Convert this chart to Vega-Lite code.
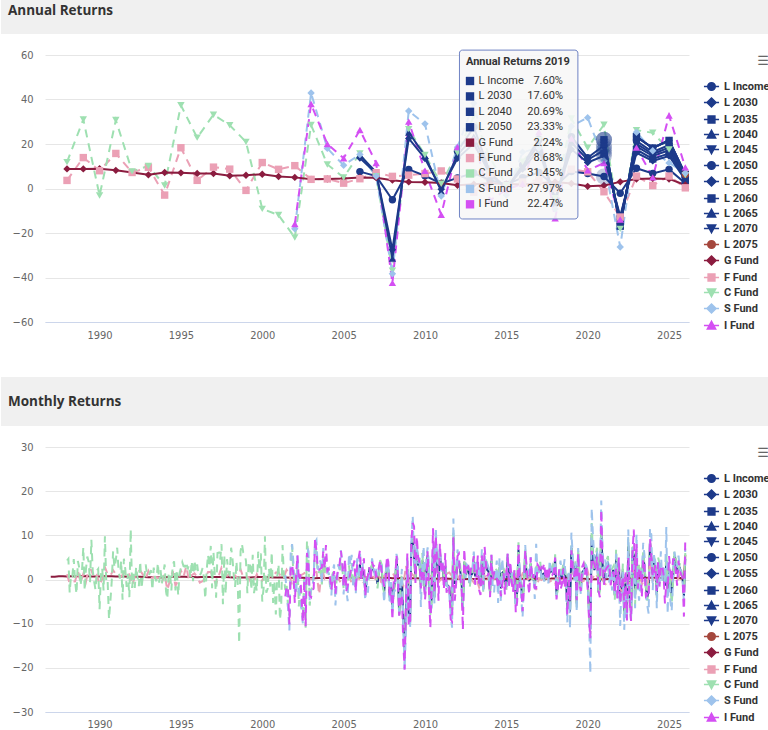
{
  "$schema": "https://vega.github.io/schema/vega-lite/v6.json",
  "padding": 0,
  "spacing": 15,
  "background": "#ffffff",
  "resolve": {
    "scale": {"color": "independent", "fill": "independent", "stroke": "independent", "shape": "independent"},
    "legend": {"color": "independent", "fill": "independent", "stroke": "independent", "shape": "independent"}
  },
  "config": {
    "view": {"stroke": null},
    "axis": {"labelFont": "Liberation Sans Narrow, DejaVu Sans Condensed, sans-serif", "labelFontSize": 11, "labelColor": "#666666", "ticks": false, "tickSize": 0},
    "legend": {
      "orient": "right", "offset": 13, "padding": 0,
      "symbolSize": 228, "symbolStrokeWidth": 1.5, "symbolOpacity": 1,
      "labelFont": "Roboto", "labelFontWeight": "bold", "labelFontSize": 11, "labelColor": "#333333", "labelOffset": 4, "labelLimit": 50,
      "rowPadding": 0,
      "titleFont": "DejaVu Sans", "titleFontSize": 13, "titleFontWeight": "normal", "titleColor": "#666666", "titleAnchor": "end", "titlePadding": 10
    }
  },
  "datasets": {
    "names": [
      {"k": "LI", "n": "L Income"}, {"k": "L30", "n": "L 2030"}, {"k": "L35", "n": "L 2035"}, {"k": "L40", "n": "L 2040"},
      {"k": "L45", "n": "L 2045"}, {"k": "L50", "n": "L 2050"}, {"k": "L55", "n": "L 2055"}, {"k": "L60", "n": "L 2060"},
      {"k": "L65", "n": "L 2065"}, {"k": "L70", "n": "L 2070"}, {"k": "L75", "n": "L 2075"}, {"k": "G", "n": "G Fund"},
      {"k": "F", "n": "F Fund"}, {"k": "C", "n": "C Fund"}, {"k": "S", "n": "S Fund"}, {"k": "I", "n": "I Fund"}
    ],
    "annual": [
      {"d": "1988", "G": 8.81, "F": 3.63, "C": 11.84},
      {"d": "1989", "G": 8.81, "F": 13.89, "C": 31.03},
      {"d": "1990", "G": 8.90, "F": 8.00, "C": -3.15},
      {"d": "1991", "G": 8.15, "F": 15.75, "C": 30.77},
      {"d": "1992", "G": 7.23, "F": 7.20, "C": 7.70},
      {"d": "1993", "G": 6.14, "F": 9.52, "C": 10.13},
      {"d": "1994", "G": 7.22, "F": -2.96, "C": 1.33},
      {"d": "1995", "G": 7.03, "F": 18.31, "C": 37.41},
      {"d": "1996", "G": 6.76, "F": 3.66, "C": 22.85},
      {"d": "1997", "G": 6.77, "F": 9.60, "C": 33.17},
      {"d": "1998", "G": 5.74, "F": 8.70, "C": 28.44},
      {"d": "1999", "G": 5.99, "F": -0.85, "C": 20.95},
      {"d": "2000", "G": 6.42, "F": 11.67, "C": -9.14},
      {"d": "2001", "G": 5.39, "F": 8.61, "C": -11.94},
      {"d": "2002", "G": 5.00, "F": 10.27, "C": -22.05, "S": -18.14, "I": -15.98},
      {"d": "2003", "G": 4.11, "F": 4.11, "C": 28.54, "S": 42.92, "I": 37.94},
      {"d": "2004", "G": 4.30, "F": 4.30, "C": 10.82, "S": 18.03, "I": 20.00},
      {"d": "2005", "G": 4.49, "F": 2.40, "C": 4.96, "S": 10.45, "I": 13.63},
      {"d": "2006", "G": 4.93, "F": 4.40, "C": 15.79, "S": 15.30, "I": 26.32, "LI": 7.59, "L30": 13.72, "L40": 15.00},
      {"d": "2007", "G": 4.87, "F": 7.09, "C": 5.54, "S": 5.49, "I": 11.43, "LI": 5.56, "L30": 6.87, "L40": 7.36},
      {"d": "2008", "G": 3.75, "F": 5.45, "C": -36.99, "S": -38.32, "I": -42.43, "LI": -5.09, "L30": -27.50, "L40": -31.53},
      {"d": "2009", "G": 2.97, "F": 5.99, "C": 26.68, "S": 34.85, "I": 30.04, "LI": 8.57, "L30": 22.48, "L40": 25.19},
      {"d": "2010", "G": 2.81, "F": 6.71, "C": 15.06, "S": 29.06, "I": 7.94, "LI": 5.74, "L30": 13.49, "L40": 14.74},
      {"d": "2011", "G": 2.45, "F": 7.89, "C": 2.11, "S": -3.38, "I": -11.81, "LI": 2.23, "L30": -0.36, "L40": -1.21},
      {"d": "2012", "G": 1.47, "F": 4.29, "C": 16.07, "S": 18.57, "I": 18.62, "LI": 4.77, "L30": 13.59, "L40": 15.19, "L50": 16.76},
      {"d": "2013", "G": 1.89, "F": -1.68, "C": 32.45, "S": 38.35, "I": 22.13, "LI": 6.97, "L30": 20.18, "L40": 23.23, "L50": 27.56},
      {"d": "2014", "G": 2.31, "F": 6.73, "C": 13.78, "S": 7.80, "I": -5.27, "LI": 3.76, "L30": 6.31, "L40": 6.68, "L50": 7.22},
      {"d": "2015", "G": 2.04, "F": 0.91, "C": 1.46, "S": -2.92, "I": -0.51, "LI": 1.83, "L30": 0.08, "L40": -0.04, "L50": -0.19},
      {"d": "2016", "G": 1.82, "F": 2.91, "C": 12.01, "S": 16.35, "I": 2.10, "LI": 4.86, "L30": 8.79, "L40": 9.62, "L50": 10.51},
      {"d": "2017", "G": 2.33, "F": 3.82, "C": 21.82, "S": 18.22, "I": 25.42, "LI": 7.18, "L30": 17.35, "L40": 19.86, "L50": 22.07},
      {"d": "2018", "G": 2.91, "F": 0.15, "C": -4.41, "S": -9.26, "I": -13.43, "LI": 0.93, "L30": -4.33, "L40": -5.49, "L50": -6.67},
      {"d": "2019", "G": 2.24, "F": 8.68, "C": 31.45, "S": 27.97, "I": 22.47, "LI": 7.60, "L30": 17.60, "L40": 20.69, "L50": 23.33},
      {"d": "2020", "G": 0.97, "F": 7.51, "C": 18.31, "S": 31.85, "I": 8.17, "LI": 6.71, "L30": 11.69, "L40": 12.88, "L50": 13.85},
      {"d": "2021", "G": 1.38, "F": -1.46, "C": 28.68, "S": 12.45, "I": 11.45, "LI": 5.42, "L30": 14.71, "L35": 15.90, "L40": 17.14, "L45": 18.30, "L50": 19.36, "L55": 21.90, "L60": 21.90, "L65": 21.90},
      {"d": "2022", "G": 2.98, "F": -12.83, "C": -18.13, "S": -26.26, "I": -13.94, "LI": -2.10, "L30": -12.46, "L35": -13.40, "L40": -14.37, "L45": -15.10, "L50": -15.88, "L55": -16.90, "L60": -16.90, "L65": -16.90},
      {"d": "2023", "G": 4.22, "F": 5.59, "C": 26.25, "S": 25.30, "I": 18.38, "LI": 9.09, "L30": 16.06, "L35": 17.50, "L40": 18.96, "L45": 20.20, "L50": 21.33, "L55": 23.30, "L60": 23.30, "L65": 23.30},
      {"d": "2024", "G": 4.45, "F": 1.33, "C": 25.02, "S": 16.93, "I": 4.99, "LI": 6.80, "L30": 12.40, "L35": 13.30, "L40": 14.60, "L45": 15.50, "L50": 16.40, "L55": 18.20, "L60": 18.20, "L65": 18.20},
      {"d": "2025", "G": 4.30, "F": 5.60, "C": 17.50, "S": 11.50, "I": 32.80, "LI": 8.60, "L30": 14.60, "L35": 15.80, "L40": 17.20, "L45": 18.40, "L50": 19.50, "L55": 21.60, "L60": 21.60, "L65": 21.60},
      {"d": "2026", "G": 1.60, "F": 0.30, "C": 6.00, "S": 7.00, "I": 9.50, "LI": 2.40, "L30": 3.80, "L35": 4.20, "L40": 4.70, "L45": 5.10, "L50": 5.50, "L55": 6.30, "L60": 6.30, "L65": 6.30, "L70": 6.30, "L75": 6.40}
    ],
    "monthly": [
      {"d":"1987-01","G":0.62},{"d":"1987-04","G":0.65},{"d":"1987-07","G":0.72},{"d":"1987-10","G":0.75},
      {"d":"1988-01","C":4.3,"F":1.2,"G":0.7},{"d":"1988-02","C":4.7},{"d":"1988-03","C":-3,"F":-0.9},{"d":"1988-04","C":1.1,"G":0.72},{"d":"1988-05","C":0.8,"F":-0.5},{"d":"1988-06","C":4.6},{"d":"1988-07","C":-0.4,"F":-0.4,"G":0.75},{"d":"1988-08","C":-3.3},{"d":"1988-09","C":4.2,"F":2},{"d":"1988-10","C":2.7,"G":0.76},{"d":"1988-11","C":-1.4,"F":-0.7},{"d":"1988-12","C":1.7},
      {"d":"1989-01","C":7.3,"F":1.3,"G":0.76},{"d":"1989-02","C":-2.5},{"d":"1989-03","C":2.3,"F":-0.5},{"d":"1989-04","C":5.2,"G":0.78},{"d":"1989-05","C":4,"F":2.4},{"d":"1989-06","C":-0.6},{"d":"1989-07","C":9,"F":2.1,"G":0.7},{"d":"1989-08","C":1.9},{"d":"1989-09","C":-0.4,"F":0.3},{"d":"1989-10","C":-2.3,"G":0.68},{"d":"1989-11","C":2,"F":1},{"d":"1989-12","C":2.4},
      {"d":"1990-01","C":-6.7,"F":-1.2,"G":0.7},{"d":"1990-02","C":1.3},{"d":"1990-03","C":2.6,"F":0.1},{"d":"1990-04","C":-2.5,"G":0.72},{"d":"1990-05","C":9.8,"F":2.8},{"d":"1990-06","C":-0.7},{"d":"1990-07","C":-0.3,"F":1.2,"G":0.74},{"d":"1990-08","C":-9},{"d":"1990-09","C":-4.9,"F":0.8},{"d":"1990-10","C":-0.4,"G":0.72},{"d":"1990-11","C":6.4,"F":2.1},{"d":"1990-12","C":2.7},
      {"d":"1991-01","C":4.4,"F":1.2,"G":0.7},{"d":"1991-02","C":7.2},{"d":"1991-03","C":2.4,"F":0.7},{"d":"1991-04","C":0.2,"G":0.68},{"d":"1991-05","C":4.3,"F":0.7},{"d":"1991-06","C":-4.6},{"d":"1991-07","C":4.7,"F":1.4,"G":0.68},{"d":"1991-08","C":2.4},{"d":"1991-09","C":-1.7,"F":2.1},{"d":"1991-10","C":1.3,"G":0.63},{"d":"1991-11","C":-4,"F":1.1},{"d":"1991-12","C":11.4},
      {"d":"1992-01","C":-1.9,"F":-1.3,"G":0.6},{"d":"1992-02","C":1.3},{"d":"1992-03","C":-1.9,"F":0.5},{"d":"1992-04","C":2.9,"G":0.6},{"d":"1992-05","C":0.5,"F":1.8},{"d":"1992-06","C":-1.5},{"d":"1992-07","C":4.1,"F":2,"G":0.6},{"d":"1992-08","C":-2.1},{"d":"1992-09","C":1.2,"F":1.1},{"d":"1992-10","C":0.4,"G":0.58},{"d":"1992-11","C":3.4,"F":0.1},{"d":"1992-12","C":1.2},
      {"d":"1993-01","C":0.8,"F":1.9,"G":0.52},{"d":"1993-02","C":1.4},{"d":"1993-03","C":2.1,"F":0.3},{"d":"1993-04","C":-2.4,"G":0.5},{"d":"1993-05","C":2.7,"F":0.6},{"d":"1993-06","C":0.3},{"d":"1993-07","C":-0.4,"F":0.5,"G":0.5},{"d":"1993-08","C":3.8},{"d":"1993-09","C":-0.7,"F":0.3},{"d":"1993-10","C":2.1,"G":0.48},{"d":"1993-11","C":-0.9,"F":-0.7},{"d":"1993-12","C":1.2},
      {"d":"1994-01","C":3.4,"F":1.3,"G":0.5},{"d":"1994-02","C":-2.7},{"d":"1994-03","C":-4.4,"F":-2.4},{"d":"1994-04","C":1.3,"G":0.58},{"d":"1994-05","C":1.6,"F":-0.2},{"d":"1994-06","C":-2.5},{"d":"1994-07","C":3.3,"F":1.9,"G":0.62},{"d":"1994-08","C":4.1},{"d":"1994-09","C":-2.5,"F":-1.4},{"d":"1994-10","C":2.3,"G":0.64},{"d":"1994-11","C":-3.6,"F":-0.2},{"d":"1994-12","C":1.5},
      {"d":"1995-01","C":2.6,"F":2,"G":0.62},{"d":"1995-02","C":3.9},{"d":"1995-03","C":3,"F":0.6},{"d":"1995-04","C":2.9,"G":0.6},{"d":"1995-05","C":4,"F":3},{"d":"1995-06","C":2.3},{"d":"1995-07","C":3.3,"F":-0.2,"G":0.56},{"d":"1995-08","C":0.3},{"d":"1995-09","C":4.2,"F":1},{"d":"1995-10","C":-0.4,"G":0.54},{"d":"1995-11","C":4.4,"F":1.4},{"d":"1995-12","C":1.9},
      {"d":"1996-01","C":3.4,"F":0.6,"G":0.52},{"d":"1996-02","C":0.9},{"d":"1996-03","C":1,"F":-0.7},{"d":"1996-04","C":1.5,"G":0.56},{"d":"1996-05","C":2.6,"F":-0.4},{"d":"1996-06","C":0.4},{"d":"1996-07","C":-4.4,"F":0.3,"G":0.58},{"d":"1996-08","C":2.1},{"d":"1996-09","C":5.6,"F":1.7},{"d":"1996-10","C":2.8,"G":0.56},{"d":"1996-11","C":7.6,"F":1.7},{"d":"1996-12","C":-2},
      {"d":"1997-01","C":6.2,"F":0.3,"G":0.56},{"d":"1997-02","C":0.8},{"d":"1997-03","C":-4.1,"F":-1.1},{"d":"1997-04","C":6,"G":0.57},{"d":"1997-05","C":6.1,"F":0.9},{"d":"1997-06","C":4.5},{"d":"1997-07","C":8,"F":2.7,"G":0.56},{"d":"1997-08","C":-5.6},{"d":"1997-09","C":5.5,"F":1.5},{"d":"1997-10","C":-3.3,"G":0.54},{"d":"1997-11","C":4.6,"F":0.8},{"d":"1997-12","C":1.7},
      {"d":"1998-01","C":1.1,"F":1.3,"G":0.5},{"d":"1998-02","C":7.2},{"d":"1998-03","C":5.1,"F":0.3},{"d":"1998-04","C":1,"G":0.48},{"d":"1998-05","C":-1.7,"F":0.9},{"d":"1998-06","C":4.1},{"d":"1998-07","C":-1.1,"F":0.2,"G":0.46},{"d":"1998-08","C":-14.5},{"d":"1998-09","C":6.4,"F":2.3},{"d":"1998-10","C":8.1,"G":0.44},{"d":"1998-11","C":6.1,"F":0.5},{"d":"1998-12","C":5.8},
      {"d":"1999-01","C":4.2,"F":0.7,"G":0.44},{"d":"1999-02","C":-3.1},{"d":"1999-03","C":4,"F":0.5},{"d":"1999-04","C":3.9,"G":0.48},{"d":"1999-05","C":-2.4,"F":-0.9},{"d":"1999-06","C":5.6},{"d":"1999-07","C":-3.1,"F":-0.4,"G":0.52},{"d":"1999-08","C":-0.5},{"d":"1999-09","C":-2.7,"F":1.2},{"d":"1999-10","C":6.3,"G":0.54},{"d":"1999-11","C":2,"F":-0.1},{"d":"1999-12","C":5.9},
      {"d":"2000-01","C":-5,"F":-0.3,"G":0.56},{"d":"2000-02","C":-1.9},{"d":"2000-03","C":9.8,"F":1.3},{"d":"2000-04","C":-3,"G":0.56},{"d":"2000-05","C":-2.1,"F":-0.1},{"d":"2000-06","C":2.5},{"d":"2000-07","C":-1.6,"F":1,"G":0.52},{"d":"2000-08","C":6.2},{"d":"2000-09","C":-5.3,"F":0.6},{"d":"2000-10","C":-0.4,"G":0.48},{"d":"2000-11","C":-7.9,"F":1.6},{"d":"2000-12","C":0.5},
      {"d":"2001-01","C":3.5,"F":1.6,"G":0.44},{"d":"2001-02","C":-9.1},{"d":"2001-03","C":-6.3,"F":0.5},{"d":"2001-04","C":7.8,"G":0.46},{"d":"2001-05","C":0.7,"F":0.6},{"d":"2001-06","C":-2.4,"S":1,"I":-3.8},{"d":"2001-07","C":-1,"F":2.2,"G":0.45,"S":-2.5,"I":-1.5},{"d":"2001-08","C":-6.3,"S":-6.4,"I":-1.9},{"d":"2001-09","C":-8.1,"F":1.2,"S":-11.6,"I":-10.2},{"d":"2001-10","C":1.9,"G":0.4,"S":6.3,"I":2.5},{"d":"2001-11","C":7.7,"F":-1.4,"S":8,"I":3.4},{"d":"2001-12","C":0.9,"S":3.7,"I":1},
      {"d":"2002-01","C":-1.5,"F":0.8,"G":0.42,"S":-2.6,"I":-5.3},{"d":"2002-02","C":-1.9,"S":-3.4,"I":1.2},{"d":"2002-03","C":3.8,"F":1.9,"S":5.6,"I":5.5},{"d":"2002-04","C":-6.1,"G":0.43,"S":-2.8,"I":-0.2},{"d":"2002-05","C":-0.8,"F":0.9,"S":-3.7,"I":1.2},{"d":"2002-06","C":-7.1,"S":-7,"I":-4.1},{"d":"2002-07","C":-7.9,"F":1.2,"G":0.41,"S":-10,"I":-9.7},{"d":"2002-08","C":0.7,"S":0.3,"I":-0.1},{"d":"2002-09","C":-10.9,"F":1.6,"S":-7,"I":-10.6},{"d":"2002-10","C":8.8,"G":0.35,"S":4.1,"I":6},{"d":"2002-11","C":5.9,"F":0,"S":7.5,"I":3.6},{"d":"2002-12","C":-5.9,"S":-5,"I":-3.6},
      {"d":"2003-01","C":-2.6,"F":0.1,"G":0.34,"S":-2.1,"I":-4},{"d":"2003-02","C":-1.5,"S":-1.8,"I":-2.6},{"d":"2003-03","C":1,"F":0,"S":1,"I":-2},{"d":"2003-04","C":8.2,"G":0.31,"S":8.5,"I":9.4},{"d":"2003-05","C":5.3,"F":1.9,"S":9,"I":6.5},{"d":"2003-06","C":1.3,"S":2.2,"I":2.4},{"d":"2003-07","C":1.8,"F":-3.4,"G":0.33,"S":4.3,"I":2.2},{"d":"2003-08","C":1.9,"S":4.1,"I":2.5},{"d":"2003-09","C":-1.1,"F":2.6,"S":-1.1,"I":2.7},{"d":"2003-10","C":5.7,"G":0.36,"S":7.1,"I":6.3},{"d":"2003-11","C":0.9,"F":0.2,"S":2.8,"I":2.4},{"d":"2003-12","C":5.2,"S":3.2,"I":7.8},
      {"d":"2004-01","C":1.8,"F":0.8,"G":0.34,"S":2.6,"I":1.9},{"d":"2004-02","C":1.4,"S":1.2,"I":2.4},{"d":"2004-03","C":-1.5,"F":0.8,"S":-0.5,"I":0.3},{"d":"2004-04","C":-1.6,"G":0.37,"S":-3.6,"I":-2.4},{"d":"2004-05","C":1.4,"F":-0.4,"S":1.8,"I":0.3},{"d":"2004-06","C":1.9,"S":3.4,"I":1.9},{"d":"2004-07","C":-3.3,"F":1.1,"G":0.38,"S":-5.9,"I":-3.3},{"d":"2004-08","C":0.4,"S":-0.8,"I":0.5},{"d":"2004-09","C":1.1,"F":0.3,"S":3.5,"I":2.3},{"d":"2004-10","C":1.5,"G":0.35,"S":2.1,"I":3.3},{"d":"2004-11","C":4.1,"F":-0.8,"S":6.6,"I":6.5},{"d":"2004-12","C":3.4,"S":3.7,"I":3.7},
      {"d":"2005-01","C":-2.4,"F":0.6,"G":0.36,"S":-3.4,"I":-1.7},{"d":"2005-02","C":2.1,"S":2.5,"I":4.6},{"d":"2005-03","C":-1.8,"F":-0.5,"S":-2.3,"I":-2.7},{"d":"2005-04","C":-1.9,"G":0.37,"S":-4.9,"I":-1.5},{"d":"2005-05","C":3.2,"F":1,"S":5.9,"I":-0.2},{"d":"2005-06","C":0.1,"S":3.3,"I":1.4},{"d":"2005-07","C":3.7,"F":-0.9,"G":0.37,"S":5.6,"I":3.1},{"d":"2005-08","C":-0.9,"S":-1.3,"I":2.9},{"d":"2005-09","C":0.8,"F":-1,"S":0.1,"I":4.3},{"d":"2005-10","C":-1.7,"G":0.38,"S":-3.1,"I":-2.7},{"d":"2005-11","C":3.8,"F":0.4,"S":4.8,"I":3.3},{"d":"2005-12","C":0.1,"S":0.5,"I":4.7},
      {"d":"2006-01","C":2.6,"F":0,"G":0.4,"S":6.5,"I":6.5,"L40":3.5},{"d":"2006-02","C":0.3,"S":0,"I":-0.1,"L40":0.2},{"d":"2006-03","C":1.2,"F":-1,"S":3.8,"I":2.9,"L40":1.7},{"d":"2006-04","C":1.4,"G":0.43,"S":0,"I":4.8,"L40":1.8},{"d":"2006-05","C":-2.9,"F":-0.1,"S":-4.8,"I":-3.8,"L40":-3},{"d":"2006-06","C":0.1,"S":-0.2,"I":-0.1,"L40":0},{"d":"2006-07","C":0.6,"F":1.4,"G":0.42,"S":-3,"I":0.9,"L40":0.2},{"d":"2006-08","C":2.4,"S":2.3,"I":2.8,"L40":2.2},{"d":"2006-09","C":2.6,"F":0.7,"S":1.2,"I":0.1,"L40":1.7},{"d":"2006-10","C":3.3,"G":0.39,"S":4.8,"I":4,"L40":3.3},{"d":"2006-11","C":1.9,"F":0.6,"S":2.9,"I":3,"L40":2},{"d":"2006-12","C":1.4,"S":0.8,"I":3.3,"L40":1.6},
      {"d":"2007-01","C":1.5,"F":-0.1,"G":0.4,"S":2.4,"I":0.6,"L40":1},{"d":"2007-02","C":-2,"S":0.6,"I":0.9,"L40":-1},{"d":"2007-03","C":1.1,"F":1,"S":1.1,"I":2.6,"L40":1.3},{"d":"2007-04","C":4.4,"G":0.41,"S":2.8,"I":4.3,"L40":3.8},{"d":"2007-05","C":3.5,"F":-0.8,"S":4.1,"I":2.1,"L40":3},{"d":"2007-06","C":-1.7,"S":-1.3,"I":0,"L40":-1.1},{"d":"2007-07","C":-3.1,"F":0.8,"G":0.4,"S":-5.3,"I":-1.7,"L40":-2.7},{"d":"2007-08","C":1.5,"S":1.1,"I":-0.2,"L40":1},{"d":"2007-09","C":3.7,"F":0.8,"S":4.1,"I":5.3,"L40":3.7},{"d":"2007-10","C":1.6,"G":0.37,"S":3.3,"I":4,"L40":2.1},{"d":"2007-11","C":-4.2,"F":1.8,"S":-5.6,"I":-4.2,"L40":-3.9},{"d":"2007-12","C":-0.7,"S":-0.6,"I":-2,"L40":-0.9},
      {"d":"2008-01","C":-6,"F":1.7,"G":0.31,"S":-8,"I":-9.2,"L40":-6.2},{"d":"2008-02","C":-3.3,"S":-2.8,"I":0.3,"L40":-2.2},{"d":"2008-03","C":-0.5,"F":0.4,"S":-2.5,"I":-0.5,"L40":-0.6},{"d":"2008-04","C":4.9,"G":0.33,"S":5.8,"I":5.5,"L40":4.6},{"d":"2008-05","C":1.3,"F":-0.8,"S":4.2,"I":1.2,"L40":1.4},{"d":"2008-06","C":-8.4,"S":-7.4,"I":-8.2,"L40":-7.9},{"d":"2008-07","C":-0.8,"F":-0.1,"G":0.33,"S":-2,"I":-3.5,"L40":-1.4},{"d":"2008-08","C":1.3,"S":2.4,"I":-3.5,"L40":0.3},{"d":"2008-09","C":-8.9,"F":-1.4,"S":-10.5,"I":-14.4,"L40":-9.3},{"d":"2008-10","C":-16.8,"G":0.25,"S":-20.5,"I":-20.4,"L40":-16.2},{"d":"2008-11","C":-7.2,"F":3.2,"S":-10.9,"I":-4.4,"L40":-6.3},{"d":"2008-12","C":1.1,"S":5.5,"I":5.9,"L40":2.4},
      {"d":"2009-01","C":-8.4,"F":-0.9,"G":0.21,"S":-8,"I":-10.5,"L40":-8.1},{"d":"2009-02","C":-10.6,"S":-10.8,"I":-10.2,"L40":-9.4},{"d":"2009-03","C":8.8,"F":1.4,"S":8.6,"I":8.6,"L40":7.9},{"d":"2009-04","C":9.6,"G":0.26,"S":14.4,"I":12.8,"L40":9.6},{"d":"2009-05","C":5.6,"F":0.7,"S":4.3,"I":12,"L40":5.4},{"d":"2009-06","C":0.2,"S":2.3,"I":-0.8,"L40":0.2},{"d":"2009-07","C":7.6,"F":1.6,"G":0.28,"S":8.3,"I":9.7,"L40":7.3},{"d":"2009-08","C":3.6,"S":3.6,"I":5.1,"L40":3.4},{"d":"2009-09","C":3.7,"F":1,"S":5.6,"I":3.8,"L40":3.5},{"d":"2009-10","C":-1.8,"G":0.25,"S":-6.2,"I":-2,"L40":-1.7},{"d":"2009-11","C":6,"F":1.3,"S":3.2,"I":2.3,"L40":4.4},{"d":"2009-12","C":1.9,"S":7.6,"I":1.6,"L40":2.1},
      {"d":"2010-01","C":-3.6,"F":1.5,"G":0.25,"S":-2.9,"I":-4.6,"L40":-3.1},{"d":"2010-02","C":3.1,"S":4.9,"I":-0.8,"L40":2},{"d":"2010-03","C":6,"F":-0.1,"S":7.3,"I":6.4,"L40":5.5},{"d":"2010-04","C":1.6,"G":0.25,"S":3.5,"I":-2.9,"L40":0.8},{"d":"2010-05","C":-8,"F":0.8,"S":-7.3,"I":-11,"L40":-7.5},{"d":"2010-06","C":-5.2,"S":-6.3,"I":-1.3,"L40":-4.1},{"d":"2010-07","C":7,"F":1.1,"G":0.22,"S":7.1,"I":11.6,"L40":7.2},{"d":"2010-08","C":-4.5,"S":-5.4,"I":-3.2,"L40":-4},{"d":"2010-09","C":8.9,"F":0.1,"S":11.6,"I":9.9,"L40":8.5},{"d":"2010-10","C":3.8,"G":0.19,"S":4.2,"I":3.6,"L40":3.4},{"d":"2010-11","C":0,"F":-0.6,"S":3.4,"I":-4.8,"L40":-0.6},{"d":"2010-12","C":6.7,"S":7.1,"I":8.2,"L40":6.4},
      {"d":"2011-01","C":2.4,"F":0.1,"G":0.23,"S":1.8,"I":2.2,"L40":2.1},{"d":"2011-02","C":3.4,"S":3.9,"I":3.7,"L40":3},{"d":"2011-03","C":0,"F":0,"S":1.5,"I":-2.3,"L40":-0.3},{"d":"2011-04","C":3,"G":0.24,"S":2.5,"I":6,"L40":3.1},{"d":"2011-05","C":-1.1,"F":1.3,"S":-1.5,"I":-3,"L40":-1.3},{"d":"2011-06","C":-1.7,"S":-1.6,"I":-1.3,"L40":-1.4},{"d":"2011-07","C":-2,"F":1.6,"G":0.19,"S":-3.3,"I":-1.6,"L40":-1.8},{"d":"2011-08","C":-5.4,"S":-8.1,"I":-9,"L40":-5.5},{"d":"2011-09","C":-7,"F":0.7,"S":-10.9,"I":-9.5,"L40":-7},{"d":"2011-10","C":10.9,"G":0.15,"S":13.8,"I":9.6,"L40":9.4},{"d":"2011-11","C":-0.2,"F":0,"S":-0.8,"I":-4.8,"L40":-1},{"d":"2011-12","C":1,"S":-0.5,"I":-1,"L40":0.4},
      {"d":"2012-01","C":4.5,"F":0.9,"G":0.13,"S":6.8,"I":5.3,"L40":4.2},{"d":"2012-02","C":4.3,"S":4.1,"I":5.8,"L40":4},{"d":"2012-03","C":3.3,"F":-0.6,"S":2,"I":0.5,"L40":2.1},{"d":"2012-04","C":-0.6,"G":0.13,"S":-1.2,"I":-1.9,"L40":-0.7},{"d":"2012-05","C":-6,"F":0.9,"S":-6.5,"I":-11.4,"L40":-6.2},{"d":"2012-06","C":4.1,"S":3,"I":7,"L40":4},{"d":"2012-07","C":1.4,"F":1.4,"G":0.11,"S":0.3,"I":1.1,"L40":1.1},{"d":"2012-08","C":2.3,"S":3.3,"I":2.7,"L40":2.1},{"d":"2012-09","C":2.6,"F":0.1,"S":2.8,"I":3,"L40":2.3},{"d":"2012-10","C":-1.8,"G":0.12,"S":-1.4,"I":0.8,"L40":-0.8},{"d":"2012-11","C":0.6,"F":0.2,"S":1.6,"I":2.5,"L40":0.9},{"d":"2012-12","C":0.9,"S":2.6,"I":3.2,"L40":1.4},
      {"d":"2013-01","C":5.2,"F":-0.7,"G":0.14,"S":6.3,"I":5.3,"L40":4.7},{"d":"2013-02","C":1.4,"S":1.4,"I":-1.2,"L40":0.7},{"d":"2013-03","C":3.8,"F":0.1,"S":4.6,"I":0,"L40":2.6},{"d":"2013-04","C":1.9,"G":0.15,"S":0.9,"I":5.4,"L40":2.1},{"d":"2013-05","C":2.3,"F":-1.8,"S":3.4,"I":-2.4,"L40":1.1},{"d":"2013-06","C":-1.3,"S":-0.9,"I":-3.5,"L40":-1.4},{"d":"2013-07","C":5.1,"F":-0.1,"G":0.18,"S":6.9,"I":5.4,"L40":4.6},{"d":"2013-08","C":-2.9,"S":-2.4,"I":-1.2,"L40":-2.2},{"d":"2013-09","C":3.1,"F":0.9,"S":5.4,"I":7.4,"L40":3.8},{"d":"2013-10","C":4.6,"G":0.18,"S":2.8,"I":3.4,"L40":3.6},{"d":"2013-11","C":3,"F":-0.4,"S":3.6,"I":0.7,"L40":2.1},{"d":"2013-12","C":2.5,"S":2.7,"I":1.5,"L40":1.8},
      {"d":"2014-01","C":-3.5,"F":1.5,"G":0.2,"S":-2.1,"I":-4,"L40":-3},{"d":"2014-02","C":4.6,"S":5.6,"I":5.6,"L40":4.3},{"d":"2014-03","C":0.8,"F":-0.2,"S":-1.5,"I":-0.1,"L40":0.3},{"d":"2014-04","C":0.7,"G":0.2,"S":-2.9,"I":1.6,"L40":0.5},{"d":"2014-05","C":2.4,"F":1.1,"S":1.1,"I":1.6,"L40":1.7},{"d":"2014-06","C":2.1,"S":4.3,"I":0.8,"L40":1.6},{"d":"2014-07","C":-1.4,"F":-0.3,"G":0.19,"S":-5.3,"I":-1.9,"L40":-1.6},{"d":"2014-08","C":4,"S":4.8,"I":-0.2,"L40":2.6},{"d":"2014-09","C":-1.4,"F":-0.7,"S":-5.2,"I":-3.8,"L40":-2},{"d":"2014-10","C":2.4,"G":0.18,"S":4.8,"I":-1.5,"L40":1.5},{"d":"2014-11","C":2.7,"F":0.7,"S":0.8,"I":1.4,"L40":1.8},{"d":"2014-12","C":-0.3,"S":1.2,"I":-3.5,"L40":-0.8},
      {"d":"2015-01","C":-3,"F":2.1,"G":0.16,"S":-1.7,"I":0.5,"L40":-1.7},{"d":"2015-02","C":5.8,"S":5.8,"I":6,"L40":5.1},{"d":"2015-03","C":-1.6,"F":0.5,"S":0.8,"I":-1.5,"L40":-1.1},{"d":"2015-04","C":1,"G":0.17,"S":-0.6,"I":4.1,"L40":1.3},{"d":"2015-05","C":1.3,"F":-0.2,"S":1.7,"I":-0.5,"L40":0.8},{"d":"2015-06","C":-1.9,"S":-0.5,"I":-2.9,"L40":-1.6},{"d":"2015-07","C":2.1,"F":0.7,"G":0.18,"S":-1.2,"I":2.1,"L40":1.4},{"d":"2015-08","C":-6,"S":-6.4,"I":-7.4,"L40":-5.6},{"d":"2015-09","C":-2.5,"F":0.7,"S":-4.4,"I":-5,"L40":-2.9},{"d":"2015-10","C":8.4,"G":0.17,"S":5.2,"I":7.8,"L40":6.8},{"d":"2015-11","C":0.3,"F":-0.3,"S":2,"I":-1.6,"L40":0.1},{"d":"2015-12","C":-1.6,"S":-4,"I":-1.4,"L40":-1.5},
      {"d":"2016-01","C":-5,"F":1.4,"G":0.16,"S":-8.6,"I":-7.2,"L40":-5.1},{"d":"2016-02","C":-0.1,"S":-0.1,"I":-1.8,"L40":-0.4},{"d":"2016-03","C":6.8,"F":0.9,"S":7.8,"I":6.5,"L40":6.1},{"d":"2016-04","C":0.4,"G":0.15,"S":1.6,"I":2.9,"L40":0.9},{"d":"2016-05","C":1.8,"F":0,"S":2,"I":-0.9,"L40":1},{"d":"2016-06","C":0.3,"S":0.4,"I":-3.4,"L40":-0.4},{"d":"2016-07","C":3.7,"F":0.6,"G":0.12,"S":5.1,"I":5,"L40":3.6},{"d":"2016-08","C":0.1,"S":1,"I":0.1,"L40":0.2},{"d":"2016-09","C":0,"F":-0.1,"S":1,"I":1.2,"L40":0.3},{"d":"2016-10","C":-1.8,"G":0.15,"S":-4.4,"I":-2,"L40":-1.7},{"d":"2016-11","C":3.7,"F":-2.4,"S":8.1,"I":-2,"L40":2.4},{"d":"2016-12","C":2,"S":1.4,"I":3.4,"L40":1.7},
      {"d":"2017-01","C":1.9,"F":0.2,"G":0.19,"S":1.9,"I":2.9,"L40":1.8},{"d":"2017-02","C":4,"S":2.6,"I":1.5,"L40":2.8},{"d":"2017-03","C":0.1,"F":-0.1,"S":0.2,"I":2.8,"L40":0.6},{"d":"2017-04","C":1,"G":0.2,"S":1.3,"I":2.5,"L40":1.2},{"d":"2017-05","C":1.4,"F":0.8,"S":-0.5,"I":3.7,"L40":1.4},{"d":"2017-06","C":0.6,"S":1.7,"I":0,"L40":0.5},{"d":"2017-07","C":2.1,"F":0.4,"G":0.19,"S":1.4,"I":2.9,"L40":1.9},{"d":"2017-08","C":0.3,"S":-0.9,"I":-0.1,"L40":0.1},{"d":"2017-09","C":2.1,"F":-0.5,"S":4.4,"I":2.5,"L40":2.1},{"d":"2017-10","C":2.3,"G":0.2,"S":1.6,"I":1.5,"L40":1.8},{"d":"2017-11","C":3.1,"F":-0.1,"S":2.8,"I":1.1,"L40":2.2},{"d":"2017-12","C":1.1,"S":0.8,"I":1.6,"L40":1.1},
      {"d":"2018-01","C":5.7,"F":-1.1,"G":0.24,"S":4.3,"I":5,"L40":4.6},{"d":"2018-02","C":-3.7,"S":-3.8,"I":-4.5,"L40":-3.4},{"d":"2018-03","C":-2.5,"F":0.6,"S":0.7,"I":-1.8,"L40":-1.6},{"d":"2018-04","C":0.4,"G":0.26,"S":0.2,"I":2.3,"L40":0.6},{"d":"2018-05","C":2.4,"F":0.7,"S":4.3,"I":-2.3,"L40":1.3},{"d":"2018-06","C":0.6,"S":0.9,"I":-1.2,"L40":0.2},{"d":"2018-07","C":3.7,"F":0,"G":0.25,"S":2,"I":2.5,"L40":2.7},{"d":"2018-08","C":3.3,"S":4.6,"I":-2,"L40":1.7},{"d":"2018-09","C":0.6,"F":-0.6,"S":-1.4,"I":0.9,"L40":0.3},{"d":"2018-10","C":-6.8,"G":0.27,"S":-9.7,"I":-8,"L40":-6.6},{"d":"2018-11","C":2,"F":0.6,"S":1.7,"I":-0.1,"L40":1.3},{"d":"2018-12","C":-9,"S":-11.1,"I":-4.9,"L40":-7.3},
      {"d":"2019-01","C":8,"F":1.1,"G":0.24,"S":10.6,"I":6.6,"L40":7.2},{"d":"2019-02","C":3.2,"S":5.4,"I":2.6,"L40":2.9},{"d":"2019-03","C":1.9,"F":1.9,"S":-0.3,"I":0.6,"L40":1.2},{"d":"2019-04","C":4.1,"G":0.2,"S":3.7,"I":2.9,"L40":3.3},{"d":"2019-05","C":-6.4,"F":1.8,"S":-7.4,"I":-4.7,"L40":-5.4},{"d":"2019-06","C":7,"S":7.1,"I":5.9,"L40":5.9},{"d":"2019-07","C":1.4,"F":0.2,"G":0.16,"S":1.4,"I":-1.3,"L40":0.6},{"d":"2019-08","C":-1.6,"S":-3.6,"I":-2.6,"L40":-1.6},{"d":"2019-09","C":1.9,"F":-0.5,"S":0.2,"I":2.9,"L40":1.6},{"d":"2019-10","C":2.2,"G":0.15,"S":1.7,"I":3.6,"L40":2},{"d":"2019-11","C":3.6,"F":-0.1,"S":3.6,"I":1.1,"L40":2.6},{"d":"2019-12","C":3,"S":3.1,"I":3.3,"L40":2.6},
      {"d":"2020-01","C":0,"F":1.9,"G":0.12,"S":-0.5,"I":-2.1,"L40":-0.3},{"d":"2020-02","C":-8.2,"S":-8.3,"I":-9,"L40":-7.3},{"d":"2020-03","C":-12.4,"F":-0.6,"S":-21.3,"I":-13.3,"L40":-11.2},{"d":"2020-04","C":12.8,"G":0.05,"S":16.2,"I":6.5,"L40":10.1},{"d":"2020-05","C":4.8,"F":0.5,"S":9.5,"I":4.4,"L40":4.6},{"d":"2020-06","C":2,"S":4.3,"I":3.4,"L40":2.1},{"d":"2020-07","C":5.6,"F":1.5,"G":0.05,"S":5.7,"I":2.3,"L40":4.3},{"d":"2020-08","C":7.2,"S":6.1,"I":5.2,"L40":5.9},{"d":"2020-09","C":-3.8,"F":-0.1,"S":-2.5,"I":-2.6,"L40":-2.9},{"d":"2020-10","C":-2.7,"G":0.06,"S":0.4,"I":-4,"L40":-2.2},{"d":"2020-11","C":10.9,"F":1,"S":17.9,"I":15.8,"L40":10.7},{"d":"2020-12","C":3.8,"S":6.5,"I":4.5,"L40":3.6},
      {"d":"2021-01","C":-1,"F":-0.7,"G":0.08,"S":2,"I":-1.2,"L40":-0.6},{"d":"2021-02","C":2.8,"S":4.5,"I":2,"L40":2.5},{"d":"2021-03","C":4.4,"F":-1.3,"S":0.3,"I":2.6,"L40":3},{"d":"2021-04","C":5.3,"G":0.11,"S":4.2,"I":3,"L40":4},{"d":"2021-05","C":0.7,"F":-0.3,"S":-0.7,"I":3.5,"L40":1},{"d":"2021-06","C":2.3,"S":3.4,"I":-1.3,"L40":1.3},{"d":"2021-07","C":2.4,"F":1.1,"G":0.11,"S":-2.5,"I":0.7,"L40":1.3},{"d":"2021-08","C":3,"S":2.3,"I":1.8,"L40":2.2},{"d":"2021-09","C":-4.7,"F":-0.9,"S":-3.2,"I":-3.1,"L40":-3.6},{"d":"2021-10","C":7,"G":0.14,"S":5.8,"I":2.4,"L40":5},{"d":"2021-11","C":-0.7,"F":-0.1,"S":-4.6,"I":-4.4,"L40":-1.2},{"d":"2021-12","C":4.5,"S":1.1,"I":5,"L40":3.6},
      {"d":"2022-01","C":-5.2,"F":-2.2,"G":0.18,"S":-10.5,"I":-5.4,"L40":-5},{"d":"2022-02","C":-3,"S":0.6,"I":-1.8,"L40":-2},{"d":"2022-03","C":3.7,"F":-2.8,"S":1.7,"I":0.8,"L40":2.3},{"d":"2022-04","C":-8.7,"G":0.26,"S":-11.4,"I":-6.5,"L40":-7.3},{"d":"2022-05","C":0.2,"F":0.6,"S":-3.2,"I":2.1,"L40":0.3},{"d":"2022-06","C":-8.3,"S":-9.2,"I":-9.3,"L40":-7.4},{"d":"2022-07","C":9.2,"F":2.4,"G":0.29,"S":11.3,"I":5,"L40":7.5},{"d":"2022-08","C":-4.1,"S":-2,"I":-4.8,"L40":-3.5},{"d":"2022-09","C":-9.2,"F":-4.3,"S":-9.5,"I":-9.4,"L40":-8},{"d":"2022-10","C":8.1,"G":0.33,"S":7.3,"I":5.4,"L40":6.4},{"d":"2022-11","C":5.6,"F":3.7,"S":3.5,"I":11.3,"L40":5.6},{"d":"2022-12","C":-5.8,"S":-6.5,"I":0.3,"L40":-3.6},
      {"d":"2023-01","C":6.3,"F":3.1,"G":0.34,"S":10.2,"I":8.1,"L40":6.1},{"d":"2023-02","C":-2.4,"S":-1.4,"I":-2.1,"L40":-2},{"d":"2023-03","C":3.7,"F":2.5,"S":-4.8,"I":2.5,"L40":2.2},{"d":"2023-04","C":1.6,"G":0.35,"S":-0.9,"I":2.7,"L40":1.3},{"d":"2023-05","C":0.4,"F":-1.1,"S":1.6,"I":-4.1,"L40":-0.4},{"d":"2023-06","C":6.6,"S":8.3,"I":4.6,"L40":5.5},{"d":"2023-07","C":3.2,"F":-0.1,"G":0.35,"S":5.3,"I":3.2,"L40":3},{"d":"2023-08","C":-1.6,"S":-3.6,"I":-3.8,"L40":-1.9},{"d":"2023-09","C":-4.8,"F":-2.6,"S":-5.9,"I":-3.4,"L40":-4},{"d":"2023-10","C":-2.1,"G":0.37,"S":-7.7,"I":-4.1,"L40":-2.6},{"d":"2023-11","C":9.1,"F":4.5,"S":11.6,"I":9.3,"L40":8.3},{"d":"2023-12","C":4.5,"S":10.1,"I":5.3,"L40":4.8},
      {"d":"2024-01","C":1.7,"F":-0.3,"G":0.37,"S":-2.4,"I":0.6,"L40":0.9},{"d":"2024-02","C":5.3,"S":5.8,"I":1.8,"L40":3.9},{"d":"2024-03","C":3.2,"F":0.9,"S":3.9,"I":3.3,"L40":2.8},{"d":"2024-04","C":-4.1,"G":0.38,"S":-6.5,"I":-2.6,"L40":-3.6},{"d":"2024-05","C":5,"F":1.7,"S":3.5,"I":3.9,"L40":3.8},{"d":"2024-06","C":3.6,"S":-0.9,"I":-1.6,"L40":1.7},{"d":"2024-07","C":1.2,"F":2.3,"G":0.37,"S":6.4,"I":2.9,"L40":1.6},{"d":"2024-08","C":2.4,"S":-0.3,"I":3.3,"L40":1.9},{"d":"2024-09","C":2.1,"F":1.3,"S":2.7,"I":0.9,"L40":1.5},{"d":"2024-10","C":-0.9,"G":0.36,"S":-0.7,"I":-5.4,"L40":-1.4},{"d":"2024-11","C":5.9,"F":1.1,"S":11.9,"I":-0.6,"L40":4.1},{"d":"2024-12","C":-2.4,"S":-7.8,"I":-2.3,"L40":-2.3},
      {"d":"2025-01","C":2.8,"F":0.5,"G":0.37,"S":3.9,"I":5.3,"L40":2.8},{"d":"2025-02","C":-1.3,"S":-5.1,"I":2,"L40":-0.9},{"d":"2025-03","C":-5.6,"F":0,"S":-7.2,"I":-0.4,"L40":-3.6},{"d":"2025-04","C":-0.7,"G":0.36,"S":-0.3,"I":4.6,"L40":0.4},{"d":"2025-05","C":6.3,"F":-0.7,"S":6.3,"I":4.6,"L40":5.3},{"d":"2025-06","C":5.1,"S":4.6,"I":2.2,"L40":3.9},{"d":"2025-07","C":2.2,"F":-0.3,"G":0.35,"S":2.8,"I":-1.4,"L40":1.3,"L75":0.2},{"d":"2025-08","C":2,"S":5.4,"I":4.3,"L40":2.4,"L75":0.3},{"d":"2025-09","C":3.6,"F":1.1,"S":2.5,"I":1.9,"L40":2.6,"L75":0.3},{"d":"2025-10","C":2.4,"G":0.33,"S":1.6,"I":1.1,"L40":1.6,"L75":0.2},{"d":"2025-11","C":0.2,"F":0.6,"S":-0.4,"I":0.5,"L40":0.2,"L75":0.3},{"d":"2025-12","C":-3,"S":-5,"I":-8.4,"L40":-3.7,"L75":0.2},
      {"d":"2026-01","C":6,"F":0.3,"G":0.31,"S":7,"I":9.5,"L40":4.7,"L75":5.6}
    ]
  },
  "vconcat": [
    {
      "width": 724,
      "height": 34,
      "data": {"values": [{"t": "Annual Returns"}]},
      "encoding": {"x": {"datum": -0.0608, "type": "quantitative", "scale": {"domain": [0, 1]}, "axis": null}},
      "layer": [
        {"mark": {"type": "rect", "fill": "#f0f0f0"}, "encoding": {"x2": {"datum": 1}}},
        {
          "mark": {"type": "text", "align": "left", "baseline": "middle", "dx": 7, "dy": -6, "font": "Open Sans", "fontSize": 13.5, "fontWeight": "bold", "color": "#333333"},
          "encoding": {"text": {"field": "t"}}
        }
      ]
    },
    {
      "width": 644,
      "height": 267,
      "layer": [
        {
          "data": {"name": "annual"},
          "transform": [
            {"fold": ["LI", "L30", "L35", "L40", "L45", "L50", "L55", "L60", "L65", "L70", "L75", "G", "F", "C", "S", "I"], "as": ["k", "v"]},
            {"filter": "isValid(datum.v)"},
            {"lookup": "k", "from": {"data": {"name": "names"}, "key": "k", "fields": ["n"]}}
          ],
          "encoding": {
            "x": {
              "field": "d", "type": "temporal",
              "scale": {"type": "utc", "domain": [{"year": 1986, "month": 8, "date": 25, "utc": true}, {"year": 2026, "month": 3, "date": 25, "utc": true}]},
              "axis": {"title": null, "format": "%Y", "tickCount": {"interval": "year", "step": 5}, "grid": false, "domainColor": "#ccd6eb", "domainWidth": 1, "labelPadding": 7, "minExtent": 40, "maxExtent": 40}
            },
            "y": {
              "field": "v", "type": "quantitative",
              "scale": {"domain": [-60, 60], "nice": false},
              "axis": {"title": null, "values": [-60, -40, -20, 0, 20, 40, 60], "grid": true, "gridColor": "#e6e6e6", "domain": false, "labelPadding": 12, "minExtent": 44, "maxExtent": 44}
            }
          },
          "layer": [
            {
              "transform": [{"filter": {"field": "k", "oneOf": ["F", "C", "S", "I"]}}],
              "mark": {"type": "line", "strokeWidth": 2, "strokeDash": [8, 6]},
              "encoding": {
                "color": {
                  "field": "n", "type": "nominal", "legend": null,
                  "scale": {
                    "domain": ["L Income", "L 2030", "L 2035", "L 2040", "L 2045", "L 2050", "L 2055", "L 2060", "L 2065", "L 2070", "L 2075", "G Fund", "F Fund", "C Fund", "S Fund", "I Fund"],
                    "range": ["#1d3a8a", "#1d3a8a", "#1d3a8a", "#1d3a8a", "#1d3a8a", "#1d3a8a", "#1d3a8a", "#1d3a8a", "#1d3a8a", "#1d3a8a", "#a5473d", "#8b1c3f", "#eba0b5", "#9ee0b1", "#9ec3ec", "#d44ff3"]
                  }
                }
              }
            },
            {
              "transform": [{"filter": {"not": {"field": "k", "oneOf": ["F", "C", "S", "I"]}}}],
              "mark": {"type": "line", "strokeWidth": 2},
              "encoding": {"color": {"field": "n", "type": "nominal", "legend": null}}
            },
            {
              "mark": {"type": "point", "filled": true, "size": 55, "opacity": 1},
              "encoding": {
                "color": {"field": "n", "type": "nominal", "legend": null},
                "shape": {
                  "field": "n", "type": "nominal", "legend": null,
                  "scale": {
                    "domain": ["L Income", "L 2030", "L 2035", "L 2040", "L 2045", "L 2050", "L 2055", "L 2060", "L 2065", "L 2070", "L 2075", "G Fund", "F Fund", "C Fund", "S Fund", "I Fund"],
                    "range": ["circle", "diamond", "square", "triangle-up", "triangle-down", "circle", "diamond", "square", "triangle-up", "triangle-down", "circle", "diamond", "square", "triangle-down", "diamond", "triangle-up"]
                  }
                }
              }
            },
            {
              "transform": [{"filter": "utcyear(datum.d) == 2021 && indexof(datum.k, 'L') == 0"}],
              "mark": {"type": "circle", "size": 260, "opacity": 0.25},
              "encoding": {"color": {"field": "n", "type": "nominal", "legend": null}}
            },
            {
              "mark": {"type": "point", "filled": true, "opacity": 0},
              "encoding": {
                "fill": {
                  "field": "n", "type": "nominal", "legend": {"title": "☰"},
                  "scale": {
                    "domain": ["L Income", "L 2030", "L 2035", "L 2040", "L 2045", "L 2050", "L 2055", "L 2060", "L 2065", "L 2070", "L 2075", "G Fund", "F Fund", "C Fund", "S Fund", "I Fund"],
                    "range": ["#1d3a8a", "#1d3a8a", "#1d3a8a", "#1d3a8a", "#1d3a8a", "#1d3a8a", "#1d3a8a", "#1d3a8a", "#1d3a8a", "#1d3a8a", "#a5473d", "#8b1c3f", "#eba0b5", "#9ee0b1", "#9ec3ec", "#d44ff3"]
                  }
                },
                "stroke": {
                  "field": "n", "type": "nominal", "legend": {"title": "☰"},
                  "scale": {
                    "domain": ["L Income", "L 2030", "L 2035", "L 2040", "L 2045", "L 2050", "L 2055", "L 2060", "L 2065", "L 2070", "L 2075", "G Fund", "F Fund", "C Fund", "S Fund", "I Fund"],
                    "range": ["#1d3a8a", "#1d3a8a", "#1d3a8a", "#1d3a8a", "#1d3a8a", "#1d3a8a", "#1d3a8a", "#1d3a8a", "#1d3a8a", "#1d3a8a", "#a5473d", "#8b1c3f", "#eba0b5", "#9ee0b1", "#9ec3ec", "#d44ff3"]
                  }
                },
                "shape": {
                  "field": "n", "type": "nominal", "legend": {"title": "☰"},
                  "scale": {
                    "domain": ["L Income", "L 2030", "L 2035", "L 2040", "L 2045", "L 2050", "L 2055", "L 2060", "L 2065", "L 2070", "L 2075", "G Fund", "F Fund", "C Fund", "S Fund", "I Fund"],
                    "range": [
                      "M-1,0H1M-0.5,0A0.5,0.5,0,1,1,0.5,0A0.5,0.5,0,1,1,-0.5,0Z",
                      "M-1,0H1M0,-0.6L0.6,0L0,0.6L-0.6,0Z",
                      "M-1,0H1M-0.45,-0.45H0.45V0.45H-0.45Z",
                      "M-1,0H1M0,-0.55L0.55,0.45H-0.55Z",
                      "M-1,0H1M0,0.55L0.55,-0.45H-0.55Z",
                      "M-1,0H1M-0.5,0A0.5,0.5,0,1,1,0.5,0A0.5,0.5,0,1,1,-0.5,0Z",
                      "M-1,0H1M0,-0.6L0.6,0L0,0.6L-0.6,0Z",
                      "M-1,0H1M-0.45,-0.45H0.45V0.45H-0.45Z",
                      "M-1,0H1M0,-0.55L0.55,0.45H-0.55Z",
                      "M-1,0H1M0,0.55L0.55,-0.45H-0.55Z",
                      "M-1,0H1M-0.5,0A0.5,0.5,0,1,1,0.5,0A0.5,0.5,0,1,1,-0.5,0Z",
                      "M-1,0H1M0,-0.6L0.6,0L0,0.6L-0.6,0Z",
                      "M-1,0H1M-0.45,-0.45H0.45V0.45H-0.45Z",
                      "M-1,0H1M0,0.55L0.55,-0.45H-0.55Z",
                      "M-1,0H1M0,-0.6L0.6,0L0,0.6L-0.6,0Z",
                      "M-1,0H1M0,-0.55L0.55,0.45H-0.55Z"
                    ]
                  }
                }
              }
            },
            {
              "transform": [{"filter": "utcyear(datum.d) == 2019 && datum.k == 'LI'"}],
              "mark": {"type": "rect", "fill": "#f7f7f7", "fillOpacity": 0.88, "stroke": "#6f83c4", "strokeWidth": 1, "cornerRadius": 3},
              "encoding": {
                "x": {"datum": {"year": 2012, "month": 2, "date": 14, "utc": true}, "type": "temporal"},
                "x2": {"datum": {"year": 2019, "month": 5, "date": 27, "utc": true}},
                "y": {"datum": 62.2, "type": "quantitative"},
                "y2": {"datum": -13.7}
              }
            },
            {
              "transform": [
                {"filter": "utcyear(datum.d) == 2019 && datum.k == 'LI'"},
                {"calculate": "'Annual Returns ' + utcyear(datum.d)", "as": "head"}
              ],
              "mark": {"type": "text", "align": "left", "baseline": "middle", "font": "Roboto", "fontSize": 11, "fontWeight": "bold", "color": "#333333"},
              "encoding": {
                "x": {"datum": {"year": 2012, "month": 7, "date": 9, "utc": true}, "type": "temporal"},
                "y": {"datum": 56.85, "type": "quantitative"},
                "text": {"field": "head"}
              }
            }
          ],
          "resolve": {"scale": {"fill": "independent", "stroke": "independent", "shape": "independent"}}
        },
        {
          "data": {"name": "annual"},
          "transform": [
            {"fold": ["LI", "L30", "L40", "L50", "G", "F", "C", "S", "I"], "as": ["k", "v"]},
            {"filter": "isValid(datum.v) && utcyear(datum.d) == 2019"},
            {"lookup": "k", "from": {"data": {"name": "names"}, "key": "k", "fields": ["n"]}},
            {"calculate": "format(datum.v, '.2f') + '%'", "as": "lab"}
          ],
          "encoding": {
            "y": {
              "field": "n", "type": "nominal", "axis": null,
              "scale": {"type": "point", "padding": 0, "domain": ["L Income", "L 2030", "L 2040", "L 2050", "G Fund", "F Fund", "C Fund", "S Fund", "I Fund"], "range": [26, 149.3]}
            }
          },
          "layer": [
            {
              "mark": {"type": "point", "shape": "square", "filled": true, "size": 70, "opacity": 1},
              "encoding": {
                "x": {"datum": {"year": 2012, "month": 10, "date": 8, "utc": true}, "type": "temporal"},
                "color": {"field": "n", "type": "nominal", "legend": null}
              }
            },
            {
              "mark": {"type": "text", "align": "left", "baseline": "middle", "font": "Roboto", "fontSize": 11, "color": "#333333"},
              "encoding": {
                "x": {"datum": {"year": 2013, "month": 4, "date": 17, "utc": true}, "type": "temporal"},
                "text": {"field": "n"}
              }
            },
            {
              "mark": {"type": "text", "align": "right", "baseline": "middle", "font": "Roboto", "fontSize": 11, "color": "#333333"},
              "encoding": {
                "x": {"datum": {"year": 2018, "month": 6, "date": 25, "utc": true}, "type": "temporal"},
                "text": {"field": "lab"}
              }
            }
          ]
        }
      ],
      "resolve": {"scale": {"y": "independent"}}
    },
    {
      "width": 724,
      "height": 49,
      "data": {"values": [{"t": "Monthly Returns"}]},
      "encoding": {"x": {"datum": -0.0608, "type": "quantitative", "scale": {"domain": [0, 1]}, "axis": null}},
      "layer": [
        {"mark": {"type": "rect", "fill": "#f0f0f0"}, "encoding": {"x2": {"datum": 1}}},
        {
          "mark": {"type": "text", "align": "left", "baseline": "middle", "dx": 7, "font": "Open Sans", "fontSize": 13.5, "fontWeight": "bold", "color": "#333333"},
          "encoding": {"text": {"field": "t"}}
        }
      ]
    },
    {
      "width": 644,
      "height": 265,
      "data": {"name": "monthly"},
      "transform": [
        {"fold": ["L40", "L75", "G", "F", "C", "S", "I"], "as": ["k", "v"]},
        {"filter": "isValid(datum.v)"},
        {"lookup": "k", "from": {"data": {"name": "names"}, "key": "k", "fields": ["n"]}}
      ],
      "encoding": {
        "x": {
          "field": "d", "type": "temporal",
          "scale": {"type": "utc", "domain": [{"year": 1986, "month": 8, "date": 25, "utc": true}, {"year": 2026, "month": 3, "date": 25, "utc": true}]},
          "axis": {"title": null, "format": "%Y", "tickCount": {"interval": "year", "step": 5}, "grid": false, "domainColor": "#ccd6eb", "domainWidth": 1, "labelPadding": 6}
        },
        "y": {
          "field": "v", "type": "quantitative",
          "scale": {"domain": [-30, 30], "nice": false},
          "axis": {"title": null, "values": [-30, -20, -10, 0, 10, 20, 30], "grid": true, "gridColor": "#e6e6e6", "domain": false, "labelPadding": 12, "minExtent": 44, "maxExtent": 44}
        }
      },
      "layer": [
        {
          "transform": [{"filter": {"field": "k", "oneOf": ["L40", "L75"]}}],
          "mark": {"type": "line", "strokeWidth": 2},
          "encoding": {
            "color": {
              "field": "n", "type": "nominal", "legend": null,
              "scale": {
                "domain": ["L Income", "L 2030", "L 2035", "L 2040", "L 2045", "L 2050", "L 2055", "L 2060", "L 2065", "L 2070", "L 2075", "G Fund", "F Fund", "C Fund", "S Fund", "I Fund"],
                "range": ["#1d3a8a", "#1d3a8a", "#1d3a8a", "#1d3a8a", "#1d3a8a", "#1d3a8a", "#1d3a8a", "#1d3a8a", "#1d3a8a", "#1d3a8a", "#a5473d", "#8b1c3f", "#eba0b5", "#9ee0b1", "#9ec3ec", "#d44ff3"]
              }
            }
          }
        },
        {
          "transform": [{"filter": {"field": "k", "equal": "G"}}],
          "mark": {"type": "line", "strokeWidth": 2},
          "encoding": {"color": {"field": "n", "type": "nominal", "legend": null}}
        },
        {
          "transform": [{"filter": {"field": "k", "oneOf": ["F", "C", "S", "I"]}}],
          "mark": {"type": "line", "strokeWidth": 2, "strokeDash": [8, 6]},
          "encoding": {"color": {"field": "n", "type": "nominal", "legend": null}}
        },
        {
          "mark": {"type": "point", "filled": true, "opacity": 0},
          "encoding": {
            "fill": {
              "field": "n", "type": "nominal", "legend": {"title": "☰"},
              "scale": {
                "domain": ["L Income", "L 2030", "L 2035", "L 2040", "L 2045", "L 2050", "L 2055", "L 2060", "L 2065", "L 2070", "L 2075", "G Fund", "F Fund", "C Fund", "S Fund", "I Fund"],
                "range": ["#1d3a8a", "#1d3a8a", "#1d3a8a", "#1d3a8a", "#1d3a8a", "#1d3a8a", "#1d3a8a", "#1d3a8a", "#1d3a8a", "#1d3a8a", "#a5473d", "#8b1c3f", "#eba0b5", "#9ee0b1", "#9ec3ec", "#d44ff3"]
              }
            },
            "stroke": {
              "field": "n", "type": "nominal", "legend": {"title": "☰"},
              "scale": {
                "domain": ["L Income", "L 2030", "L 2035", "L 2040", "L 2045", "L 2050", "L 2055", "L 2060", "L 2065", "L 2070", "L 2075", "G Fund", "F Fund", "C Fund", "S Fund", "I Fund"],
                "range": ["#1d3a8a", "#1d3a8a", "#1d3a8a", "#1d3a8a", "#1d3a8a", "#1d3a8a", "#1d3a8a", "#1d3a8a", "#1d3a8a", "#1d3a8a", "#a5473d", "#8b1c3f", "#eba0b5", "#9ee0b1", "#9ec3ec", "#d44ff3"]
              }
            },
            "shape": {
              "field": "n", "type": "nominal", "legend": {"title": "☰"},
              "scale": {
                "domain": ["L Income", "L 2030", "L 2035", "L 2040", "L 2045", "L 2050", "L 2055", "L 2060", "L 2065", "L 2070", "L 2075", "G Fund", "F Fund", "C Fund", "S Fund", "I Fund"],
                "range": [
                  "M-1,0H1M-0.5,0A0.5,0.5,0,1,1,0.5,0A0.5,0.5,0,1,1,-0.5,0Z",
                  "M-1,0H1M0,-0.6L0.6,0L0,0.6L-0.6,0Z",
                  "M-1,0H1M-0.45,-0.45H0.45V0.45H-0.45Z",
                  "M-1,0H1M0,-0.55L0.55,0.45H-0.55Z",
                  "M-1,0H1M0,0.55L0.55,-0.45H-0.55Z",
                  "M-1,0H1M-0.5,0A0.5,0.5,0,1,1,0.5,0A0.5,0.5,0,1,1,-0.5,0Z",
                  "M-1,0H1M0,-0.6L0.6,0L0,0.6L-0.6,0Z",
                  "M-1,0H1M-0.45,-0.45H0.45V0.45H-0.45Z",
                  "M-1,0H1M0,-0.55L0.55,0.45H-0.55Z",
                  "M-1,0H1M0,0.55L0.55,-0.45H-0.55Z",
                  "M-1,0H1M-0.5,0A0.5,0.5,0,1,1,0.5,0A0.5,0.5,0,1,1,-0.5,0Z",
                  "M-1,0H1M0,-0.6L0.6,0L0,0.6L-0.6,0Z",
                  "M-1,0H1M-0.45,-0.45H0.45V0.45H-0.45Z",
                  "M-1,0H1M0,0.55L0.55,-0.45H-0.55Z",
                  "M-1,0H1M0,-0.6L0.6,0L0,0.6L-0.6,0Z",
                  "M-1,0H1M0,-0.55L0.55,0.45H-0.55Z"
                ]
              }
            }
          }
        }
      ],
      "resolve": {"scale": {"fill": "independent", "stroke": "independent", "shape": "independent"}}
    }
  ]
}
